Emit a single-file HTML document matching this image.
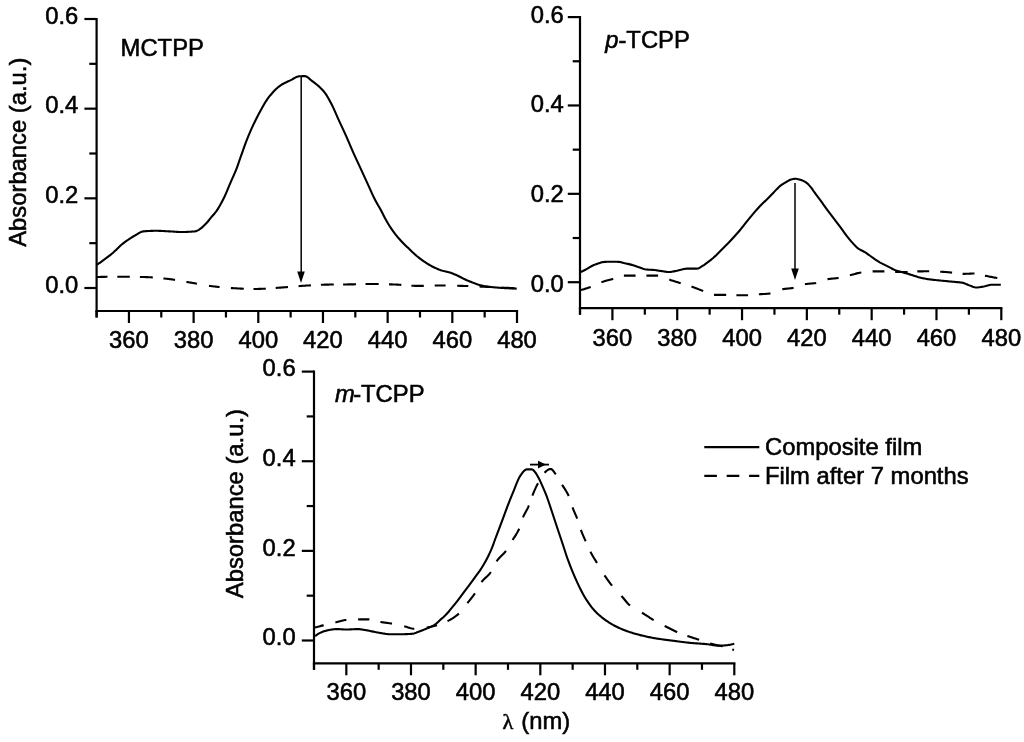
<!DOCTYPE html>
<html><head><meta charset="utf-8"><title>Absorbance spectra</title>
<style>html,body{margin:0;padding:0;background:#fff;width:1024px;height:742px;overflow:hidden}svg{display:block}</style>
</head><body>
<svg width="1024" height="742" viewBox="0 0 1024 742" font-family="Liberation Sans, Arial, sans-serif" fill="#000">
<rect width="1024" height="742" fill="#fff"/>
<style>text{stroke:#000;stroke-width:0.55px}</style>
<line x1="96.6" y1="17.9" x2="96.6" y2="317.5" stroke="#000" stroke-width="2.2"/>
<line x1="95.5" y1="311.0" x2="518.1" y2="311.0" stroke="#000" stroke-width="2.2"/>
<line x1="84.39999999999999" y1="288.00" x2="96.6" y2="288.00" stroke="#000" stroke-width="2.2"/>
<text transform="translate(78.30,292.80) scale(1.035,1)" text-anchor="end" font-size="23" >0.0</text>
<line x1="89.3" y1="243.17" x2="96.6" y2="243.17" stroke="#000" stroke-width="2.2"/>
<line x1="84.39999999999999" y1="198.33" x2="96.6" y2="198.33" stroke="#000" stroke-width="2.2"/>
<text transform="translate(78.30,203.10) scale(1.035,1)" text-anchor="end" font-size="23" >0.2</text>
<line x1="89.3" y1="153.50" x2="96.6" y2="153.50" stroke="#000" stroke-width="2.2"/>
<line x1="84.39999999999999" y1="108.67" x2="96.6" y2="108.67" stroke="#000" stroke-width="2.2"/>
<text transform="translate(78.30,112.80) scale(1.035,1)" text-anchor="end" font-size="23" >0.4</text>
<line x1="89.3" y1="63.83" x2="96.6" y2="63.83" stroke="#000" stroke-width="2.2"/>
<line x1="84.39999999999999" y1="19.00" x2="96.6" y2="19.00" stroke="#000" stroke-width="2.2"/>
<text transform="translate(78.30,23.90) scale(1.035,1)" text-anchor="end" font-size="23" >0.6</text>
<line x1="96.60" y1="311.0" x2="96.60" y2="317.5" stroke="#000" stroke-width="2.2"/>
<line x1="128.94" y1="311.0" x2="128.94" y2="323.0" stroke="#000" stroke-width="2.2"/>
<text transform="translate(128.94,347.70) scale(1.035,1)" text-anchor="middle" font-size="23" >360</text>
<line x1="161.28" y1="311.0" x2="161.28" y2="317.5" stroke="#000" stroke-width="2.2"/>
<line x1="193.62" y1="311.0" x2="193.62" y2="323.0" stroke="#000" stroke-width="2.2"/>
<text transform="translate(193.62,347.70) scale(1.035,1)" text-anchor="middle" font-size="23" >380</text>
<line x1="225.95" y1="311.0" x2="225.95" y2="317.5" stroke="#000" stroke-width="2.2"/>
<line x1="258.29" y1="311.0" x2="258.29" y2="323.0" stroke="#000" stroke-width="2.2"/>
<text transform="translate(258.29,347.70) scale(1.035,1)" text-anchor="middle" font-size="23" >400</text>
<line x1="290.63" y1="311.0" x2="290.63" y2="317.5" stroke="#000" stroke-width="2.2"/>
<line x1="322.97" y1="311.0" x2="322.97" y2="323.0" stroke="#000" stroke-width="2.2"/>
<text transform="translate(322.97,347.70) scale(1.035,1)" text-anchor="middle" font-size="23" >420</text>
<line x1="355.31" y1="311.0" x2="355.31" y2="317.5" stroke="#000" stroke-width="2.2"/>
<line x1="387.65" y1="311.0" x2="387.65" y2="323.0" stroke="#000" stroke-width="2.2"/>
<text transform="translate(387.65,347.70) scale(1.035,1)" text-anchor="middle" font-size="23" >440</text>
<line x1="419.98" y1="311.0" x2="419.98" y2="317.5" stroke="#000" stroke-width="2.2"/>
<line x1="452.32" y1="311.0" x2="452.32" y2="323.0" stroke="#000" stroke-width="2.2"/>
<text transform="translate(452.32,347.70) scale(1.035,1)" text-anchor="middle" font-size="23" >460</text>
<line x1="484.66" y1="311.0" x2="484.66" y2="317.5" stroke="#000" stroke-width="2.2"/>
<line x1="517.00" y1="311.0" x2="517.00" y2="323.0" stroke="#000" stroke-width="2.2"/>
<text transform="translate(517.00,347.70) scale(1.035,1)" text-anchor="middle" font-size="23" >480</text>
<text transform="translate(26.00,152.20) rotate(-90) scale(1.035,1)" text-anchor="middle" font-size="23" >Absorbance (a.u.)</text>
<text transform="translate(120.60,56.00) scale(1.035,1)" text-anchor="start" font-size="23" >MCTPP</text>
<path d="M96.80,264.80 L97.80,264.14 L98.80,263.46 L99.80,262.78 L100.80,262.09 L101.80,261.38 L102.80,260.67 L103.80,259.94 L104.80,259.21 L105.80,258.46 L106.80,257.71 L107.80,256.96 L108.80,256.18 L109.80,255.40 L110.80,254.59 L111.80,253.77 L112.80,252.93 L113.80,252.04 L114.80,251.10 L115.80,250.14 L116.80,249.15 L117.80,248.16 L118.80,247.18 L119.80,246.23 L120.80,245.32 L121.80,244.46 L122.80,243.66 L123.80,242.88 L124.80,242.13 L125.80,241.40 L126.80,240.69 L127.80,240.00 L128.80,239.33 L129.80,238.66 L130.80,238.01 L131.80,237.38 L132.80,236.76 L133.80,236.16 L134.80,235.57 L135.80,235.01 L136.80,234.44 L137.80,233.81 L138.80,233.18 L139.80,232.58 L140.80,232.06 L141.80,231.66 L142.80,231.42 L143.80,231.33 L144.80,231.24 L145.80,231.17 L146.80,231.10 L147.80,231.04 L148.80,230.98 L149.80,230.93 L150.80,230.89 L151.80,230.86 L152.80,230.83 L153.80,230.82 L154.80,230.80 L155.80,230.80 L156.80,230.80 L157.80,230.82 L158.80,230.84 L159.80,230.88 L160.80,230.92 L161.80,230.96 L162.80,231.01 L163.80,231.06 L164.80,231.12 L165.80,231.18 L166.80,231.23 L167.80,231.29 L168.80,231.34 L169.80,231.39 L170.80,231.44 L171.80,231.50 L172.80,231.56 L173.80,231.63 L174.80,231.70 L175.80,231.76 L176.80,231.83 L177.80,231.88 L178.80,231.93 L179.80,231.97 L180.80,231.99 L181.80,232.00 L182.80,232.00 L183.80,231.98 L184.80,231.97 L185.80,231.94 L186.80,231.91 L187.80,231.87 L188.80,231.82 L189.80,231.77 L190.80,231.71 L191.80,231.64 L192.80,231.56 L193.80,231.47 L194.80,231.38 L195.80,231.15 L196.80,230.78 L197.80,230.34 L198.80,229.84 L199.80,229.21 L200.80,228.46 L201.80,227.61 L202.80,226.70 L203.80,225.75 L204.80,224.79 L205.80,223.80 L206.77,222.76 L207.67,221.73 L208.52,220.71 L209.35,219.70 L210.16,218.70 L210.96,217.70 L211.77,216.71 L212.60,215.73 L213.47,214.74 L214.35,213.73 L215.21,212.70 L216.01,211.66 L216.75,210.62 L217.43,209.59 L218.08,208.57 L218.71,207.55 L219.31,206.54 L219.89,205.52 L220.46,204.51 L221.01,203.50 L221.55,202.49 L222.08,201.48 L222.60,200.47 L223.12,199.46 L223.62,198.46 L224.12,197.45 L224.62,196.43 L225.10,195.41 L225.55,194.40 L226.00,193.39 L226.43,192.38 L226.86,191.37 L227.28,190.36 L227.69,189.36 L228.11,188.36 L228.52,187.36 L228.93,186.36 L229.34,185.36 L229.76,184.37 L230.18,183.38 L230.61,182.38 L231.05,181.39 L231.49,180.40 L231.93,179.40 L232.38,178.40 L232.83,177.40 L233.28,176.40 L233.72,175.39 L234.16,174.39 L234.60,173.38 L235.03,172.37 L235.45,171.36 L235.86,170.35 L236.27,169.34 L236.66,168.32 L237.04,167.31 L237.41,166.29 L237.78,165.28 L238.13,164.28 L238.48,163.27 L238.83,162.27 L239.17,161.26 L239.51,160.26 L239.85,159.26 L240.19,158.26 L240.54,157.27 L240.88,156.27 L241.23,155.28 L241.58,154.29 L241.94,153.28 L242.29,152.28 L242.65,151.28 L243.00,150.28 L243.35,149.28 L243.70,148.28 L244.06,147.29 L244.41,146.29 L244.77,145.29 L245.14,144.30 L245.50,143.31 L245.88,142.32 L246.26,141.33 L246.64,140.34 L247.04,139.34 L247.44,138.35 L247.84,137.35 L248.25,136.36 L248.66,135.36 L249.07,134.37 L249.50,133.37 L249.92,132.38 L250.35,131.39 L250.79,130.39 L251.23,129.40 L251.68,128.40 L252.13,127.41 L252.59,126.42 L253.05,125.42 L253.51,124.43 L253.99,123.43 L254.46,122.44 L254.94,121.44 L255.43,120.45 L255.92,119.45 L256.42,118.46 L256.92,117.46 L257.43,116.47 L257.95,115.48 L258.47,114.48 L259.01,113.49 L259.55,112.50 L260.09,111.50 L260.64,110.50 L261.19,109.50 L261.74,108.50 L262.29,107.51 L262.84,106.51 L263.40,105.52 L263.97,104.53 L264.55,103.54 L265.14,102.55 L265.75,101.56 L266.37,100.58 L267.02,99.60 L267.70,98.63 L268.42,97.66 L269.19,96.69 L269.99,95.70 L270.81,94.71 L271.65,93.73 L272.51,92.74 L273.40,91.76 L274.33,90.78 L275.29,89.80 L276.29,88.84 L277.29,87.93 L278.29,87.07 L279.29,86.28 L280.29,85.55 L281.29,84.88 L282.29,84.27 L283.29,83.71 L284.29,83.18 L285.29,82.69 L286.29,82.22 L287.29,81.76 L288.29,81.31 L289.29,80.86 L290.29,80.39 L291.29,79.90 L292.29,79.35 L293.29,78.76 L294.29,78.15 L295.29,77.58 L296.29,77.07 L297.29,76.66 L298.29,76.39 L299.29,76.28 L300.29,76.23 L301.29,76.18 L302.29,76.14 L303.29,76.11 L304.29,76.10 L305.29,76.16 L306.29,76.48 L307.29,77.04 L308.29,77.77 L309.29,78.60 L310.29,79.48 L311.29,80.34 L312.29,81.12 L313.29,81.87 L314.29,82.63 L315.29,83.41 L316.29,84.21 L317.29,85.03 L318.29,85.88 L319.29,86.78 L320.29,87.72 L321.29,88.70 L322.28,89.73 L323.21,90.76 L324.09,91.79 L324.93,92.85 L325.67,93.89 L326.35,94.93 L327.00,95.95 L327.61,96.97 L328.20,97.99 L328.77,99.00 L329.32,100.01 L329.87,101.02 L330.41,102.03 L330.94,103.03 L331.47,104.03 L331.99,105.05 L332.50,106.07 L332.98,107.09 L333.46,108.10 L333.92,109.11 L334.37,110.12 L334.82,111.12 L335.26,112.13 L335.70,113.13 L336.13,114.13 L336.57,115.13 L337.00,116.13 L337.44,117.12 L337.88,118.12 L338.33,119.11 L338.78,120.10 L339.24,121.10 L339.71,122.10 L340.17,123.10 L340.64,124.09 L341.10,125.09 L341.57,126.09 L342.04,127.09 L342.51,128.09 L342.97,129.10 L343.44,130.10 L343.90,131.10 L344.36,132.10 L344.82,133.11 L345.27,134.11 L345.73,135.11 L346.18,136.12 L346.62,137.12 L347.06,138.13 L347.49,139.13 L347.92,140.14 L348.35,141.14 L348.78,142.14 L349.21,143.14 L349.63,144.14 L350.06,145.14 L350.48,146.14 L350.91,147.14 L351.34,148.14 L351.77,149.13 L352.20,150.13 L352.63,151.12 L353.07,152.12 L353.52,153.11 L353.97,154.11 L354.42,155.11 L354.88,156.10 L355.34,157.10 L355.80,158.10 L356.26,159.10 L356.73,160.10 L357.19,161.09 L357.66,162.09 L358.13,163.09 L358.59,164.09 L359.06,165.10 L359.53,166.10 L359.99,167.10 L360.45,168.10 L360.91,169.10 L361.37,170.10 L361.83,171.10 L362.29,172.10 L362.75,173.10 L363.21,174.10 L363.67,175.10 L364.12,176.10 L364.58,177.10 L365.04,178.10 L365.50,179.10 L365.96,180.10 L366.41,181.10 L366.87,182.10 L367.33,183.10 L367.79,184.10 L368.25,185.11 L368.71,186.11 L369.16,187.11 L369.61,188.12 L370.05,189.12 L370.50,190.12 L370.95,191.11 L371.40,192.11 L371.85,193.11 L372.30,194.10 L372.76,195.10 L373.23,196.09 L373.70,197.08 L374.18,198.07 L374.67,199.06 L375.18,200.04 L375.70,201.02 L376.24,202.01 L376.80,203.00 L377.37,203.99 L377.95,204.98 L378.53,205.98 L379.12,206.99 L379.70,207.99 L380.27,209.01 L380.82,210.02 L381.36,211.04 L381.87,212.05 L382.38,213.06 L382.88,214.06 L383.38,215.06 L383.88,216.05 L384.39,217.04 L384.91,218.03 L385.45,219.01 L386.01,220.00 L386.58,220.99 L387.15,221.99 L387.74,222.98 L388.33,223.97 L388.93,224.96 L389.55,225.95 L390.18,226.94 L390.82,227.93 L391.48,228.91 L392.16,229.90 L392.86,230.88 L393.58,231.87 L394.32,232.86 L395.08,233.84 L395.86,234.83 L396.65,235.82 L397.47,236.81 L398.30,237.80 L399.16,238.79 L400.03,239.78 L400.92,240.76 L401.84,241.75 L402.79,242.73 L403.76,243.72 L404.76,244.71 L405.76,245.68 L406.76,246.64 L407.76,247.60 L408.76,248.56 L409.76,249.52 L410.76,250.49 L411.76,251.45 L412.76,252.40 L413.76,253.34 L414.76,254.25 L415.76,255.14 L416.76,255.99 L417.76,256.80 L418.76,257.60 L419.76,258.39 L420.76,259.15 L421.76,259.89 L422.76,260.61 L423.76,261.30 L424.76,261.98 L425.76,262.63 L426.76,263.27 L427.76,263.90 L428.76,264.51 L429.76,265.10 L430.76,265.67 L431.76,266.22 L432.76,266.73 L433.76,267.22 L434.76,267.70 L435.76,268.16 L436.76,268.60 L437.76,269.02 L438.76,269.43 L439.76,269.81 L440.76,270.16 L441.76,270.48 L442.76,270.77 L443.76,271.03 L444.76,271.26 L445.76,271.49 L446.76,271.72 L447.76,271.96 L448.76,272.22 L449.76,272.52 L450.76,272.85 L451.76,273.21 L452.76,273.59 L453.76,273.99 L454.76,274.41 L455.76,274.83 L456.76,275.27 L457.76,275.73 L458.76,276.23 L459.76,276.74 L460.76,277.27 L461.76,277.79 L462.76,278.31 L463.76,278.81 L464.76,279.28 L465.76,279.73 L466.76,280.17 L467.76,280.60 L468.76,281.02 L469.76,281.43 L470.76,281.84 L471.76,282.23 L472.76,282.61 L473.76,282.99 L474.76,283.37 L475.76,283.76 L476.76,284.14 L477.76,284.50 L478.76,284.83 L479.76,285.14 L480.76,285.40 L481.76,285.62 L482.76,285.82 L483.76,286.00 L484.76,286.17 L485.76,286.32 L486.76,286.46 L487.76,286.60 L488.76,286.72 L489.76,286.84 L490.76,286.96 L491.76,287.06 L492.76,287.17 L493.76,287.27 L494.76,287.36 L495.76,287.45 L496.76,287.54 L497.76,287.62 L498.76,287.69 L499.76,287.76 L500.76,287.83 L501.76,287.89 L502.76,287.96 L503.76,288.02 L504.76,288.08 L505.76,288.14 L506.76,288.19 L507.76,288.25 L508.76,288.30 L509.76,288.35 L510.76,288.39 L511.76,288.44 L512.76,288.48 L513.76,288.51 L514.76,288.55 L515.76,288.58 L516.70,288.60" fill="none" stroke="#000" stroke-width="2.1" stroke-linejoin="round"/>
<path d="M96.80,277.00 L97.80,276.98 L98.80,276.95 L99.80,276.93 L100.80,276.90 L101.80,276.88 L102.80,276.86 L103.80,276.84 L104.80,276.83 L105.80,276.81 L106.80,276.80 L107.50,276.80 M117.30,276.72 L117.80,276.72 L118.80,276.71 L119.80,276.71 L120.80,276.70 L121.80,276.70 L122.80,276.70 L123.80,276.70 L124.80,276.70 L125.80,276.70 L126.80,276.71 L127.80,276.72 L128.80,276.72 L129.80,276.74 M139.90,276.93 L140.80,276.95 L141.80,276.98 L142.80,277.01 L143.80,277.04 L144.80,277.06 L145.80,277.09 L146.80,277.13 L147.80,277.17 L148.80,277.21 L149.80,277.26 L150.80,277.32 L151.80,277.38 L152.80,277.45 M163.40,278.43 L163.80,278.47 L164.80,278.58 L165.80,278.69 L166.80,278.80 L167.80,278.91 L168.80,279.02 L169.80,279.14 L170.80,279.27 L171.80,279.40 L172.80,279.54 L173.80,279.69 L174.80,279.84 L175.00,279.88 M186.40,281.88 L186.80,281.95 L187.80,282.13 L188.80,282.31 L189.80,282.48 L190.80,282.65 L191.80,282.82 L192.80,282.98 L193.80,283.15 L194.80,283.33 L195.80,283.51 L196.80,283.68 L197.00,283.72 M209.00,285.80 L209.80,285.92 L210.80,286.06 L211.80,286.20 L212.80,286.32 L213.80,286.44 L214.80,286.55 L215.80,286.66 L216.80,286.77 L217.80,286.87 L218.80,286.97 L219.60,287.05 M230.90,288.01 L231.80,288.08 L232.80,288.14 L233.80,288.21 L234.80,288.26 L235.80,288.32 L236.80,288.37 L237.80,288.43 L238.80,288.48 L239.80,288.53 L240.80,288.58 L241.80,288.63 L242.80,288.68 L243.80,288.73 M253.50,289.00 L253.80,289.00 L254.80,288.99 L255.80,288.98 L256.80,288.97 L257.80,288.94 L258.80,288.92 L259.80,288.89 L260.80,288.85 L261.80,288.82 L262.80,288.78 L263.80,288.74 L264.80,288.71 L265.80,288.67 M275.70,287.99 L275.80,287.98 L276.80,287.90 L277.80,287.82 L278.80,287.74 L279.80,287.66 L280.80,287.58 L281.80,287.50 L282.80,287.42 L283.80,287.35 L284.80,287.27 L285.80,287.19 L286.80,287.10 L287.80,287.02 L288.00,287.00 M298.60,286.12 L298.80,286.11 L299.80,286.03 L300.80,285.96 L301.80,285.89 L302.80,285.82 L303.80,285.76 L304.80,285.69 L305.80,285.63 L306.80,285.57 L307.80,285.51 L308.80,285.45 L309.80,285.39 L310.80,285.33 L310.90,285.32 M320.90,284.79 L321.80,284.75 L322.80,284.71 L323.80,284.68 L324.80,284.65 L325.80,284.63 L326.80,284.61 L327.80,284.59 L328.80,284.58 L329.80,284.57 L330.80,284.55 L331.80,284.54 L332.80,284.53 L333.80,284.53 M343.10,284.46 L343.80,284.45 L344.80,284.45 L345.80,284.44 L346.80,284.43 L347.80,284.42 L348.80,284.41 L349.80,284.40 L350.80,284.38 L351.80,284.37 L352.80,284.35 L353.80,284.33 L354.80,284.31 L355.80,284.28 L356.00,284.28 M365.50,284.07 L365.80,284.06 L366.80,284.04 L367.80,284.03 L368.80,284.02 L369.80,284.01 L370.80,284.00 L371.80,284.00 L372.80,284.00 L373.80,284.00 L374.80,284.01 L375.80,284.02 L376.80,284.03 L377.80,284.05 L378.70,284.06 M389.00,284.32 L389.80,284.34 L390.80,284.37 L391.80,284.41 L392.80,284.44 L393.80,284.47 L394.80,284.50 L395.80,284.54 L396.80,284.59 L397.80,284.65 L398.80,284.71 L399.80,284.78 L400.80,284.85 L401.30,284.89 M411.40,285.69 L411.80,285.71 L412.80,285.77 L413.80,285.81 L414.80,285.85 L415.80,285.88 L416.80,285.90 L417.80,285.90 L418.80,285.90 L419.80,285.89 L420.80,285.88 L421.80,285.86 L422.80,285.85 L423.80,285.83 M434.70,285.56 L434.80,285.56 L435.80,285.54 L436.80,285.52 L437.80,285.51 L438.80,285.50 L439.80,285.50 L440.80,285.50 L441.80,285.50 L442.80,285.51 L443.80,285.52 L444.80,285.52 L445.60,285.53 M457.20,285.76 L457.80,285.78 L458.80,285.80 L459.80,285.83 L460.80,285.85 L461.80,285.88 L462.80,285.90 L463.80,285.93 L464.80,285.96 L465.80,285.99 L466.80,286.02 L467.80,286.05 L468.30,286.07 M479.60,286.55 L479.80,286.56 L480.80,286.60 L481.80,286.65 L482.80,286.69 L483.80,286.74 L484.80,286.78 L485.80,286.83 L486.80,286.87 L487.80,286.92 L488.80,286.96 L489.80,287.01 L490.80,287.06 L491.60,287.10 M502.20,287.60 L502.80,287.63 L503.80,287.68 L504.80,287.73 L505.80,287.77 L506.80,287.82 L507.80,287.87 L508.80,287.91 L509.80,287.96 L510.80,288.01 L511.80,288.06 L512.80,288.10 L513.80,288.15 L514.50,288.18" fill="none" stroke="#000" stroke-width="2.1" stroke-linejoin="round"/>
<line x1="301.2" y1="76" x2="301.2" y2="274" stroke="#000" stroke-width="1.5"/>
<path d="M297.2,271.5 L304.8,271.5 L301,283 Z" fill="#000"/>
<line x1="580.0" y1="16.0" x2="580.0" y2="314.7" stroke="#000" stroke-width="2.2"/>
<line x1="578.9" y1="308.2" x2="1002.4" y2="308.2" stroke="#000" stroke-width="2.2"/>
<line x1="567.8" y1="282.20" x2="580.0" y2="282.20" stroke="#000" stroke-width="2.2"/>
<text transform="translate(563.80,291.60) scale(1.035,1)" text-anchor="end" font-size="23" >0.0</text>
<line x1="572.7" y1="238.02" x2="580.0" y2="238.02" stroke="#000" stroke-width="2.2"/>
<line x1="567.8" y1="193.83" x2="580.0" y2="193.83" stroke="#000" stroke-width="2.2"/>
<text transform="translate(563.80,202.20) scale(1.035,1)" text-anchor="end" font-size="23" >0.2</text>
<line x1="572.7" y1="149.65" x2="580.0" y2="149.65" stroke="#000" stroke-width="2.2"/>
<line x1="567.8" y1="105.47" x2="580.0" y2="105.47" stroke="#000" stroke-width="2.2"/>
<text transform="translate(563.80,112.40) scale(1.035,1)" text-anchor="end" font-size="23" >0.4</text>
<line x1="572.7" y1="61.28" x2="580.0" y2="61.28" stroke="#000" stroke-width="2.2"/>
<line x1="567.8" y1="17.10" x2="580.0" y2="17.10" stroke="#000" stroke-width="2.2"/>
<text transform="translate(563.80,22.70) scale(1.035,1)" text-anchor="end" font-size="23" >0.6</text>
<line x1="580.00" y1="308.2" x2="580.00" y2="314.7" stroke="#000" stroke-width="2.2"/>
<line x1="612.41" y1="308.2" x2="612.41" y2="320.2" stroke="#000" stroke-width="2.2"/>
<text transform="translate(612.41,345.50) scale(1.035,1)" text-anchor="middle" font-size="23" >360</text>
<line x1="644.82" y1="308.2" x2="644.82" y2="314.7" stroke="#000" stroke-width="2.2"/>
<line x1="677.22" y1="308.2" x2="677.22" y2="320.2" stroke="#000" stroke-width="2.2"/>
<text transform="translate(677.22,345.50) scale(1.035,1)" text-anchor="middle" font-size="23" >380</text>
<line x1="709.63" y1="308.2" x2="709.63" y2="314.7" stroke="#000" stroke-width="2.2"/>
<line x1="742.04" y1="308.2" x2="742.04" y2="320.2" stroke="#000" stroke-width="2.2"/>
<text transform="translate(742.04,345.50) scale(1.035,1)" text-anchor="middle" font-size="23" >400</text>
<line x1="774.45" y1="308.2" x2="774.45" y2="314.7" stroke="#000" stroke-width="2.2"/>
<line x1="806.85" y1="308.2" x2="806.85" y2="320.2" stroke="#000" stroke-width="2.2"/>
<text transform="translate(806.85,345.50) scale(1.035,1)" text-anchor="middle" font-size="23" >420</text>
<line x1="839.26" y1="308.2" x2="839.26" y2="314.7" stroke="#000" stroke-width="2.2"/>
<line x1="871.67" y1="308.2" x2="871.67" y2="320.2" stroke="#000" stroke-width="2.2"/>
<text transform="translate(871.67,345.50) scale(1.035,1)" text-anchor="middle" font-size="23" >440</text>
<line x1="904.08" y1="308.2" x2="904.08" y2="314.7" stroke="#000" stroke-width="2.2"/>
<line x1="936.48" y1="308.2" x2="936.48" y2="320.2" stroke="#000" stroke-width="2.2"/>
<text transform="translate(936.48,345.50) scale(1.035,1)" text-anchor="middle" font-size="23" >460</text>
<line x1="968.89" y1="308.2" x2="968.89" y2="314.7" stroke="#000" stroke-width="2.2"/>
<line x1="1001.30" y1="308.2" x2="1001.30" y2="320.2" stroke="#000" stroke-width="2.2"/>
<text transform="translate(1001.30,345.50) scale(1.035,1)" text-anchor="middle" font-size="23" >480</text>
<text transform="translate(605.2,48.2) scale(1.035,1)" font-size="23"><tspan font-style="italic">p</tspan>-TCPP</text>
<path d="M580.90,272.00 L581.90,271.51 L582.90,271.01 L583.90,270.50 L584.90,269.98 L585.90,269.45 L586.90,268.88 L587.90,268.28 L588.90,267.67 L589.90,267.06 L590.90,266.48 L591.90,265.94 L592.90,265.46 L593.90,265.03 L594.90,264.62 L595.90,264.24 L596.90,263.89 L597.90,263.57 L598.90,263.24 L599.90,262.90 L600.90,262.59 L601.90,262.31 L602.90,262.09 L603.90,261.94 L604.90,261.87 L605.90,261.83 L606.90,261.79 L607.90,261.75 L608.90,261.73 L609.90,261.71 L610.90,261.70 L611.90,261.70 L612.90,261.71 L613.90,261.73 L614.90,261.75 L615.90,261.78 L616.90,261.81 L617.90,261.85 L618.90,261.90 L619.90,261.99 L620.90,262.16 L621.90,262.40 L622.90,262.67 L623.90,262.95 L624.90,263.20 L625.90,263.43 L626.90,263.66 L627.90,263.88 L628.90,264.12 L629.90,264.36 L630.90,264.61 L631.90,264.88 L632.90,265.16 L633.90,265.47 L634.90,265.82 L635.90,266.18 L636.90,266.55 L637.90,266.90 L638.90,267.23 L639.90,267.58 L640.90,267.95 L641.90,268.32 L642.90,268.67 L643.90,268.98 L644.90,269.24 L645.90,269.44 L646.90,269.55 L647.90,269.63 L648.90,269.69 L649.90,269.75 L650.90,269.79 L651.90,269.84 L652.90,269.90 L653.90,269.97 L654.90,270.07 L655.90,270.20 L656.90,270.35 L657.90,270.51 L658.90,270.68 L659.90,270.84 L660.90,270.99 L661.90,271.13 L662.90,271.30 L663.90,271.47 L664.90,271.63 L665.90,271.78 L666.90,271.90 L667.90,271.98 L668.90,272.00 L669.90,271.96 L670.90,271.86 L671.90,271.72 L672.90,271.54 L673.90,271.35 L674.90,271.15 L675.90,270.96 L676.90,270.73 L677.90,270.47 L678.90,270.21 L679.90,269.98 L680.90,269.75 L681.90,269.51 L682.90,269.28 L683.90,269.05 L684.90,268.86 L685.90,268.71 L686.90,268.62 L687.90,268.60 L688.90,268.60 L689.90,268.60 L690.90,268.60 L691.90,268.60 L692.90,268.60 L693.90,268.60 L694.90,268.60 L695.90,268.60 L696.90,268.60 L697.90,268.53 L698.90,268.18 L699.90,267.61 L700.90,266.94 L701.90,266.28 L702.90,265.68 L703.90,265.05 L704.90,264.38 L705.90,263.68 L706.90,262.95 L707.90,262.21 L708.90,261.45 L709.90,260.68 L710.90,259.87 L711.90,259.04 L712.90,258.19 L713.90,257.30 L714.90,256.40 L715.90,255.46 L716.90,254.47 L717.90,253.46 L718.88,252.46 L719.85,251.46 L720.83,250.47 L721.83,249.47 L722.83,248.49 L723.83,247.50 L724.83,246.51 L725.83,245.52 L726.83,244.51 L727.82,243.51 L728.79,242.50 L729.75,241.49 L730.69,240.48 L731.61,239.48 L732.53,238.47 L733.44,237.47 L734.35,236.47 L735.25,235.47 L736.16,234.47 L737.06,233.47 L737.96,232.46 L738.84,231.45 L739.71,230.44 L740.56,229.42 L741.39,228.41 L742.19,227.40 L742.98,226.40 L743.77,225.40 L744.55,224.40 L745.34,223.40 L746.13,222.41 L746.94,221.41 L747.75,220.41 L748.56,219.42 L749.37,218.42 L750.19,217.42 L751.01,216.42 L751.84,215.43 L752.67,214.43 L753.52,213.43 L754.36,212.43 L755.21,211.44 L756.06,210.44 L756.92,209.45 L757.80,208.46 L758.69,207.47 L759.61,206.49 L760.55,205.51 L761.54,204.52 L762.54,203.55 L763.54,202.58 L764.54,201.62 L765.54,200.65 L766.54,199.66 L767.54,198.66 L768.53,197.65 L769.51,196.65 L770.49,195.65 L771.47,194.65 L772.45,193.66 L773.44,192.66 L774.42,191.64 L775.37,190.63 L776.30,189.63 L777.25,188.65 L778.22,187.67 L779.22,186.75 L780.22,185.93 L781.22,185.17 L782.22,184.47 L783.22,183.81 L784.22,183.18 L785.22,182.59 L786.22,182.02 L787.22,181.42 L788.22,180.83 L789.22,180.28 L790.22,179.80 L791.22,179.44 L792.22,179.22 L793.22,179.04 L794.22,178.89 L795.22,178.81 L796.22,178.82 L797.22,178.94 L798.22,179.16 L799.22,179.43 L800.22,179.72 L801.22,180.03 L802.22,180.41 L803.22,180.85 L804.22,181.37 L805.22,181.94 L806.22,182.58 L807.22,183.33 L808.22,184.28 L809.20,185.34 L810.09,186.35 L810.95,187.39 L811.74,188.44 L812.47,189.46 L813.16,190.47 L813.84,191.47 L814.53,192.46 L815.23,193.44 L815.96,194.43 L816.71,195.43 L817.46,196.43 L818.21,197.43 L818.97,198.43 L819.72,199.43 L820.47,200.44 L821.21,201.45 L821.93,202.46 L822.64,203.46 L823.33,204.47 L824.03,205.47 L824.73,206.46 L825.43,207.45 L826.15,208.44 L826.88,209.43 L827.63,210.43 L828.38,211.42 L829.14,212.42 L829.91,213.42 L830.67,214.42 L831.42,215.42 L832.18,216.42 L832.94,217.42 L833.70,218.42 L834.46,219.42 L835.21,220.42 L835.97,221.42 L836.73,222.42 L837.50,223.42 L838.26,224.42 L839.02,225.42 L839.78,226.43 L840.53,227.43 L841.27,228.44 L842.00,229.46 L842.71,230.46 L843.41,231.46 L844.11,232.46 L844.82,233.45 L845.54,234.43 L846.29,235.41 L847.07,236.41 L847.86,237.40 L848.66,238.39 L849.48,239.37 L850.33,240.36 L851.19,241.35 L852.08,242.34 L852.98,243.34 L853.87,244.34 L854.77,245.32 L855.71,246.29 L856.71,247.24 L857.71,248.08 L858.71,248.80 L859.71,249.42 L860.71,249.98 L861.71,250.50 L862.71,251.00 L863.71,251.52 L864.71,252.07 L865.71,252.67 L866.71,253.34 L867.71,254.05 L868.71,254.78 L869.71,255.53 L870.71,256.28 L871.71,257.02 L872.71,257.73 L873.71,258.42 L874.71,259.09 L875.71,259.76 L876.71,260.42 L877.71,261.06 L878.71,261.69 L879.71,262.29 L880.71,262.86 L881.71,263.41 L882.71,263.93 L883.71,264.43 L884.71,264.91 L885.71,265.39 L886.71,265.87 L887.71,266.36 L888.71,266.86 L889.71,267.38 L890.71,267.92 L891.71,268.45 L892.71,268.97 L893.71,269.46 L894.71,269.91 L895.71,270.30 L896.71,270.65 L897.71,270.96 L898.71,271.25 L899.71,271.53 L900.71,271.79 L901.71,272.06 L902.71,272.33 L903.71,272.62 L904.71,272.91 L905.71,273.20 L906.71,273.49 L907.71,273.78 L908.71,274.08 L909.71,274.37 L910.71,274.67 L911.71,274.98 L912.71,275.31 L913.71,275.64 L914.71,275.97 L915.71,276.30 L916.71,276.61 L917.71,276.91 L918.71,277.18 L919.71,277.45 L920.71,277.70 L921.71,277.95 L922.71,278.18 L923.71,278.40 L924.71,278.59 L925.71,278.77 L926.71,278.94 L927.71,279.09 L928.71,279.23 L929.71,279.37 L930.71,279.50 L931.71,279.62 L932.71,279.74 L933.71,279.86 L934.71,279.97 L935.71,280.08 L936.71,280.18 L937.71,280.28 L938.71,280.38 L939.71,280.48 L940.71,280.57 L941.71,280.67 L942.71,280.77 L943.71,280.87 L944.71,280.96 L945.71,281.06 L946.71,281.16 L947.71,281.25 L948.71,281.35 L949.71,281.44 L950.71,281.54 L951.71,281.63 L952.71,281.73 L953.71,281.83 L954.71,281.92 L955.71,282.01 L956.71,282.09 L957.71,282.17 L958.71,282.26 L959.71,282.37 L960.71,282.48 L961.71,282.62 L962.71,282.80 L963.71,283.08 L964.71,283.44 L965.71,283.85 L966.71,284.29 L967.71,284.72 L968.71,285.13 L969.71,285.48 L970.71,285.88 L971.71,286.30 L972.71,286.70 L973.71,287.06 L974.71,287.33 L975.71,287.48 L976.71,287.49 L977.71,287.43 L978.71,287.33 L979.71,287.20 L980.71,287.04 L981.71,286.87 L982.71,286.70 L983.71,286.53 L984.71,286.31 L985.71,286.05 L986.71,285.76 L987.71,285.47 L988.71,285.20 L989.71,284.97 L990.71,284.80 L991.71,284.71 L992.71,284.70 L993.71,284.70 L994.71,284.70 L995.71,284.70 L996.71,284.70 L997.71,284.70 L998.71,284.70 L999.71,284.70 L1000.71,284.70 L1000.80,284.70" fill="none" stroke="#000" stroke-width="2.1" stroke-linejoin="round"/>
<path d="M580.90,290.00 L581.90,289.74 L582.90,289.46 L583.90,289.17 L584.90,288.87 L585.90,288.55 L586.90,288.23 L587.90,287.89 L588.90,287.55 L589.90,287.19 L590.70,286.90 M601.40,282.20 L601.90,282.03 L602.90,281.70 L603.90,281.39 L604.90,281.09 L605.90,280.80 L606.90,280.53 L607.90,280.26 L608.90,279.99 L609.90,279.72 L610.90,279.45 L611.90,279.17 L612.90,278.89 L613.20,278.80 M623.90,275.60 L624.90,275.60 L625.90,275.60 L626.90,275.60 L627.90,275.60 L628.90,275.60 L629.90,275.60 L630.90,275.60 L631.90,275.60 L632.90,275.60 L633.90,275.60 L634.90,275.60 L635.60,275.60 M646.40,275.60 L646.90,275.60 L647.90,275.60 L648.90,275.60 L649.90,275.60 L650.90,275.60 L651.90,275.60 L652.90,275.60 L653.90,275.60 L654.90,275.60 L655.90,275.60 L656.90,275.60 L657.90,275.60 L658.10,275.61 M669.30,279.60 L669.90,279.80 L670.90,280.13 L671.90,280.45 L672.90,280.77 L673.90,281.09 L674.90,281.40 L675.90,281.71 L676.90,282.02 L677.90,282.33 L678.90,282.64 L679.90,282.95 L680.70,283.20 M691.50,286.60 L691.90,286.74 L692.90,287.09 L693.90,287.45 L694.90,287.83 L695.90,288.20 L696.90,288.59 L697.90,288.97 L698.90,289.36 L699.90,289.75 L700.90,290.13 L701.90,290.51 L702.90,290.89 L703.20,291.00 M714.00,294.90 L714.90,294.90 L715.90,294.90 L716.90,294.90 L717.90,294.90 L718.90,294.90 L719.90,294.90 L720.90,294.90 L721.90,294.90 L722.90,294.90 L723.90,294.90 L724.90,294.90 L725.90,294.90 L726.20,294.90 M736.40,295.20 L736.90,295.20 L737.90,295.20 L738.90,295.20 L739.90,295.20 L740.90,295.20 L741.90,295.20 L742.90,295.20 L743.90,295.20 L744.90,295.20 L745.90,295.20 L746.90,295.20 L747.90,295.20 L748.10,295.20 M758.90,294.30 L759.90,294.23 L760.90,294.17 L761.90,294.11 L762.90,294.06 L763.90,294.00 L764.90,293.95 L765.90,293.89 L766.90,293.82 L767.90,293.75 L768.90,293.66 L769.90,293.57 L770.50,293.49 M782.30,289.21 L782.90,289.10 L783.90,288.96 L784.90,288.84 L785.90,288.73 L786.90,288.64 L787.90,288.55 L788.90,288.46 L789.90,288.37 L790.90,288.27 L791.90,288.15 L792.90,288.01 L793.60,287.90 M804.90,284.20 L805.90,284.05 L806.90,283.93 L807.90,283.83 L808.90,283.74 L809.90,283.65 L810.90,283.57 L811.90,283.49 L812.90,283.40 L813.90,283.30 L814.90,283.19 L815.90,283.05 L816.20,282.99 M827.50,279.21 L827.90,279.13 L828.90,278.98 L829.90,278.85 L830.90,278.74 L831.90,278.64 L832.90,278.54 L833.90,278.45 L834.90,278.35 L835.90,278.25 L836.90,278.14 L837.90,278.00 L838.60,277.90 M849.90,275.20 L850.90,274.95 L851.90,274.70 L852.90,274.43 L853.90,274.16 L854.90,273.89 L855.90,273.63 L856.90,273.38 L857.90,273.14 L858.90,272.92 L859.90,272.72 L860.90,272.56 L861.30,272.50 M872.60,271.40 L872.90,271.40 L873.90,271.40 L874.90,271.40 L875.90,271.40 L876.90,271.40 L877.90,271.40 L878.90,271.40 L879.90,271.40 L880.90,271.40 L881.90,271.40 L882.90,271.40 L883.90,271.40 L884.40,271.40 M895.20,272.00 L895.90,272.00 L896.90,272.00 L897.90,272.00 L898.90,272.00 L899.90,272.00 L900.90,272.00 L901.90,272.00 L902.90,272.00 L903.90,272.00 L904.90,272.00 L905.90,272.00 L906.90,272.00 L907.60,272.00 M917.30,271.40 L917.90,271.39 L918.90,271.38 L919.90,271.36 L920.90,271.35 L921.90,271.34 L922.90,271.33 L923.90,271.32 L924.90,271.31 L925.90,271.31 L926.90,271.30 L927.90,271.30 L928.90,271.30 L929.20,271.30 M940.20,271.70 L940.90,271.74 L941.90,271.79 L942.90,271.85 L943.90,271.92 L944.90,271.99 L945.90,272.06 L946.90,272.14 L947.90,272.22 L948.90,272.31 L949.90,272.40 L950.90,272.49 L951.90,272.58 L952.10,272.60 M962.60,273.90 L962.90,273.90 L963.90,273.89 L964.90,273.86 L965.90,273.82 L966.90,273.78 L967.90,273.73 L968.90,273.68 L969.90,273.63 L970.90,273.59 L971.90,273.55 L972.90,273.52 L973.90,273.50 L974.50,273.51 M985.00,275.70 L985.90,275.88 L986.90,276.08 L987.90,276.28 L988.90,276.48 L989.90,276.68 L990.90,276.87 L991.90,277.06 L992.90,277.25 L993.90,277.43 L994.90,277.61 L995.90,277.78 L996.90,277.94 L997.30,278.00" fill="none" stroke="#000" stroke-width="2.1" stroke-linejoin="round"/>
<line x1="795" y1="183" x2="795" y2="270" stroke="#000" stroke-width="1.5"/>
<path d="M791.2,268.5 L798.8,268.5 L795,280 Z" fill="#000"/>
<line x1="314.0" y1="370.5" x2="314.0" y2="669.8" stroke="#000" stroke-width="2.2"/>
<line x1="312.9" y1="663.3" x2="735.4" y2="663.3" stroke="#000" stroke-width="2.2"/>
<line x1="301.8" y1="640.50" x2="314.0" y2="640.50" stroke="#000" stroke-width="2.2"/>
<text transform="translate(295.70,645.10) scale(1.035,1)" text-anchor="end" font-size="23" >0.0</text>
<line x1="306.7" y1="595.68" x2="314.0" y2="595.68" stroke="#000" stroke-width="2.2"/>
<line x1="301.8" y1="550.87" x2="314.0" y2="550.87" stroke="#000" stroke-width="2.2"/>
<text transform="translate(295.70,555.50) scale(1.035,1)" text-anchor="end" font-size="23" >0.2</text>
<line x1="306.7" y1="506.05" x2="314.0" y2="506.05" stroke="#000" stroke-width="2.2"/>
<line x1="301.8" y1="461.23" x2="314.0" y2="461.23" stroke="#000" stroke-width="2.2"/>
<text transform="translate(295.70,465.90) scale(1.035,1)" text-anchor="end" font-size="23" >0.4</text>
<line x1="306.7" y1="416.42" x2="314.0" y2="416.42" stroke="#000" stroke-width="2.2"/>
<line x1="301.8" y1="371.60" x2="314.0" y2="371.60" stroke="#000" stroke-width="2.2"/>
<text transform="translate(295.70,376.30) scale(1.035,1)" text-anchor="end" font-size="23" >0.6</text>
<line x1="314.00" y1="663.3" x2="314.00" y2="669.8" stroke="#000" stroke-width="2.2"/>
<line x1="346.33" y1="663.3" x2="346.33" y2="675.3" stroke="#000" stroke-width="2.2"/>
<text transform="translate(346.33,700.10) scale(1.035,1)" text-anchor="middle" font-size="23" >360</text>
<line x1="378.66" y1="663.3" x2="378.66" y2="669.8" stroke="#000" stroke-width="2.2"/>
<line x1="410.99" y1="663.3" x2="410.99" y2="675.3" stroke="#000" stroke-width="2.2"/>
<text transform="translate(410.99,700.10) scale(1.035,1)" text-anchor="middle" font-size="23" >380</text>
<line x1="443.32" y1="663.3" x2="443.32" y2="669.8" stroke="#000" stroke-width="2.2"/>
<line x1="475.65" y1="663.3" x2="475.65" y2="675.3" stroke="#000" stroke-width="2.2"/>
<text transform="translate(475.65,700.10) scale(1.035,1)" text-anchor="middle" font-size="23" >400</text>
<line x1="507.98" y1="663.3" x2="507.98" y2="669.8" stroke="#000" stroke-width="2.2"/>
<line x1="540.32" y1="663.3" x2="540.32" y2="675.3" stroke="#000" stroke-width="2.2"/>
<text transform="translate(540.32,700.10) scale(1.035,1)" text-anchor="middle" font-size="23" >420</text>
<line x1="572.65" y1="663.3" x2="572.65" y2="669.8" stroke="#000" stroke-width="2.2"/>
<line x1="604.98" y1="663.3" x2="604.98" y2="675.3" stroke="#000" stroke-width="2.2"/>
<text transform="translate(604.98,700.10) scale(1.035,1)" text-anchor="middle" font-size="23" >440</text>
<line x1="637.31" y1="663.3" x2="637.31" y2="669.8" stroke="#000" stroke-width="2.2"/>
<line x1="669.64" y1="663.3" x2="669.64" y2="675.3" stroke="#000" stroke-width="2.2"/>
<text transform="translate(669.64,700.10) scale(1.035,1)" text-anchor="middle" font-size="23" >460</text>
<line x1="701.97" y1="663.3" x2="701.97" y2="669.8" stroke="#000" stroke-width="2.2"/>
<line x1="734.30" y1="663.3" x2="734.30" y2="675.3" stroke="#000" stroke-width="2.2"/>
<text transform="translate(734.30,700.10) scale(1.035,1)" text-anchor="middle" font-size="23" >480</text>
<text transform="translate(242.60,503.60) rotate(-90) scale(1.035,1)" text-anchor="middle" font-size="23" >Absorbance (a.u.)</text>
<text transform="translate(335.0,401.6) scale(1.035,1)" font-size="23"><tspan font-style="italic">m</tspan><tspan dx="-1.6">-TCPP</tspan></text>
<path d="M315.10,636.10 L316.10,635.33 L317.10,634.61 L318.10,633.94 L319.10,633.35 L320.10,632.86 L321.10,632.41 L322.10,631.99 L323.10,631.60 L324.10,631.24 L325.10,630.92 L326.10,630.64 L327.10,630.40 L328.10,630.21 L329.10,630.02 L330.10,629.84 L331.10,629.66 L332.10,629.51 L333.10,629.37 L334.10,629.26 L335.10,629.17 L336.10,629.12 L337.10,629.10 L338.10,629.12 L339.10,629.15 L340.10,629.20 L341.10,629.26 L342.10,629.33 L343.10,629.39 L344.10,629.44 L345.10,629.48 L346.10,629.50 L347.10,629.50 L348.10,629.47 L349.10,629.44 L350.10,629.39 L351.10,629.34 L352.10,629.29 L353.10,629.23 L354.10,629.18 L355.10,629.14 L356.10,629.11 L357.10,629.10 L358.10,629.11 L359.10,629.17 L360.10,629.26 L361.10,629.39 L362.10,629.53 L363.10,629.69 L364.10,629.86 L365.10,630.04 L366.10,630.20 L367.10,630.36 L368.10,630.54 L369.10,630.73 L370.10,630.94 L371.10,631.16 L372.10,631.38 L373.10,631.60 L374.10,631.82 L375.10,632.03 L376.10,632.23 L377.10,632.42 L378.10,632.58 L379.10,632.76 L380.10,632.94 L381.10,633.12 L382.10,633.30 L383.10,633.48 L384.10,633.65 L385.10,633.80 L386.10,633.93 L387.10,634.04 L388.10,634.13 L389.10,634.18 L390.10,634.20 L391.10,634.20 L392.10,634.20 L393.10,634.20 L394.10,634.20 L395.10,634.20 L396.10,634.20 L397.10,634.20 L398.10,634.20 L399.10,634.20 L400.10,634.20 L401.10,634.20 L402.10,634.20 L403.10,634.20 L404.10,634.19 L405.10,634.17 L406.10,634.14 L407.10,634.10 L408.10,634.05 L409.10,634.00 L410.10,633.94 L411.10,633.87 L412.10,633.79 L413.10,633.65 L414.10,633.41 L415.10,633.09 L416.10,632.73 L417.10,632.33 L418.10,631.93 L419.10,631.55 L420.10,631.19 L421.10,630.82 L422.10,630.44 L423.10,630.05 L424.10,629.65 L425.10,629.24 L426.10,628.82 L427.10,628.39 L428.10,627.95 L429.10,627.52 L430.10,627.08 L431.10,626.63 L432.10,626.15 L433.10,625.64 L434.10,625.08 L435.10,624.46 L436.10,623.74 L437.10,622.86 L438.10,621.91 L439.10,620.93 L440.10,620.01 L441.10,619.15 L442.10,618.30 L443.10,617.43 L444.10,616.50 L445.10,615.52 L446.09,614.50 L447.03,613.48 L447.95,612.47 L448.85,611.44 L449.70,610.43 L450.53,609.42 L451.35,608.42 L452.16,607.42 L452.99,606.43 L453.82,605.43 L454.65,604.42 L455.47,603.41 L456.28,602.40 L457.06,601.39 L457.83,600.38 L458.58,599.37 L459.33,598.37 L460.07,597.37 L460.82,596.37 L461.56,595.37 L462.30,594.36 L463.04,593.37 L463.77,592.37 L464.52,591.38 L465.27,590.38 L466.03,589.38 L466.80,588.38 L467.56,587.38 L468.32,586.37 L469.07,585.37 L469.82,584.37 L470.56,583.37 L471.30,582.37 L472.04,581.36 L472.77,580.36 L473.49,579.35 L474.21,578.35 L474.92,577.35 L475.63,576.35 L476.36,575.36 L477.09,574.38 L477.85,573.39 L478.61,572.38 L479.36,571.35 L480.06,570.32 L480.73,569.31 L481.39,568.30 L482.02,567.28 L482.65,566.27 L483.26,565.26 L483.85,564.25 L484.43,563.24 L485.01,562.23 L485.57,561.22 L486.11,560.21 L486.65,559.20 L487.18,558.19 L487.70,557.18 L488.21,556.17 L488.71,555.16 L489.19,554.15 L489.67,553.14 L490.13,552.12 L490.59,551.11 L491.03,550.10 L491.46,549.08 L491.87,548.06 L492.27,547.05 L492.66,546.04 L493.04,545.03 L493.42,544.02 L493.78,543.01 L494.15,542.01 L494.51,541.01 L494.87,540.01 L495.23,539.01 L495.60,538.01 L495.96,537.02 L496.33,536.02 L496.70,535.03 L497.08,534.03 L497.46,533.03 L497.84,532.03 L498.21,531.03 L498.59,530.03 L498.97,529.03 L499.35,528.03 L499.73,527.03 L500.11,526.03 L500.48,525.03 L500.86,524.03 L501.24,523.03 L501.61,522.03 L501.99,521.03 L502.37,520.03 L502.74,519.02 L503.11,518.02 L503.48,517.02 L503.85,516.02 L504.22,515.02 L504.58,514.02 L504.95,513.02 L505.32,512.02 L505.68,511.02 L506.05,510.02 L506.42,509.02 L506.79,508.03 L507.17,507.03 L507.54,506.03 L507.92,505.04 L508.31,504.04 L508.70,503.05 L509.09,502.05 L509.48,501.05 L509.88,500.06 L510.27,499.06 L510.68,498.06 L511.08,497.07 L511.49,496.08 L511.91,495.08 L512.32,494.08 L512.74,493.08 L513.16,492.07 L513.57,491.07 L513.98,490.06 L514.37,489.04 L514.76,488.04 L515.14,487.03 L515.52,486.04 L515.91,485.05 L516.30,484.06 L516.70,483.08 L517.13,482.11 L517.57,481.11 L518.01,480.11 L518.45,479.13 L518.91,478.16 L519.40,477.20 L519.94,476.28 L520.59,475.35 L521.30,474.35 L522.00,473.36 L522.73,472.39 L523.51,471.45 L524.39,470.54 L525.39,469.79 L526.39,469.42 L527.39,469.40 L528.39,469.40 L529.39,469.40 L530.39,469.40 L531.39,469.40 L532.39,469.48 L533.39,470.20 L534.38,471.32 L535.24,472.32 L536.03,473.42 L536.68,474.48 L537.28,475.51 L537.84,476.53 L538.39,477.54 L538.93,478.54 L539.46,479.57 L539.96,480.59 L540.43,481.61 L540.89,482.62 L541.34,483.63 L541.78,484.64 L542.22,485.64 L542.66,486.64 L543.09,487.64 L543.53,488.64 L543.96,489.65 L544.39,490.65 L544.81,491.66 L545.23,492.67 L545.64,493.68 L546.05,494.69 L546.44,495.70 L546.83,496.71 L547.21,497.72 L547.57,498.74 L547.93,499.75 L548.28,500.76 L548.62,501.77 L548.96,502.77 L549.30,503.78 L549.63,504.78 L549.96,505.78 L550.29,506.78 L550.62,507.77 L550.96,508.77 L551.29,509.77 L551.63,510.78 L551.96,511.78 L552.29,512.78 L552.62,513.78 L552.95,514.78 L553.28,515.78 L553.60,516.78 L553.93,517.78 L554.26,518.78 L554.58,519.78 L554.91,520.78 L555.24,521.78 L555.57,522.78 L555.90,523.78 L556.23,524.78 L556.56,525.78 L556.89,526.77 L557.22,527.77 L557.56,528.77 L557.89,529.77 L558.23,530.77 L558.57,531.77 L558.90,532.77 L559.24,533.77 L559.57,534.77 L559.91,535.77 L560.25,536.77 L560.58,537.77 L560.92,538.77 L561.26,539.77 L561.59,540.77 L561.92,541.77 L562.26,542.78 L562.59,543.78 L562.92,544.79 L563.24,545.79 L563.57,546.79 L563.89,547.79 L564.21,548.79 L564.53,549.79 L564.85,550.79 L565.18,551.79 L565.50,552.78 L565.83,553.78 L566.16,554.77 L566.50,555.77 L566.83,556.76 L567.18,557.75 L567.53,558.74 L567.89,559.73 L568.26,560.72 L568.63,561.72 L569.00,562.71 L569.38,563.71 L569.76,564.70 L570.14,565.70 L570.53,566.69 L570.92,567.69 L571.32,568.68 L571.72,569.68 L572.12,570.67 L572.53,571.67 L572.95,572.66 L573.37,573.66 L573.79,574.65 L574.22,575.64 L574.65,576.64 L575.09,577.63 L575.54,578.63 L575.98,579.62 L576.44,580.62 L576.89,581.62 L577.34,582.61 L577.80,583.61 L578.27,584.61 L578.73,585.60 L579.21,586.59 L579.68,587.59 L580.17,588.58 L580.66,589.57 L581.16,590.56 L581.66,591.55 L582.18,592.54 L582.71,593.53 L583.26,594.52 L583.81,595.50 L584.39,596.49 L584.99,597.47 L585.60,598.46 L586.22,599.45 L586.86,600.44 L587.51,601.43 L588.17,602.42 L588.85,603.41 L589.55,604.39 L590.27,605.38 L591.01,606.36 L591.77,607.34 L592.57,608.32 L593.40,609.30 L594.27,610.27 L595.18,611.25 L596.14,612.23 L597.13,613.21 L598.13,614.15 L599.13,615.06 L600.13,615.93 L601.13,616.76 L602.13,617.57 L603.13,618.34 L604.13,619.10 L605.13,619.83 L606.13,620.54 L607.13,621.23 L608.13,621.90 L609.13,622.55 L610.13,623.18 L611.13,623.79 L612.13,624.38 L613.13,624.95 L614.13,625.49 L615.13,626.02 L616.13,626.53 L617.13,627.02 L618.13,627.50 L619.13,627.96 L620.13,628.41 L621.13,628.85 L622.13,629.27 L623.13,629.68 L624.13,630.08 L625.13,630.46 L626.13,630.83 L627.13,631.19 L628.13,631.54 L629.13,631.88 L630.13,632.21 L631.13,632.54 L632.13,632.85 L633.13,633.16 L634.13,633.46 L635.13,633.76 L636.13,634.04 L637.13,634.32 L638.13,634.59 L639.13,634.85 L640.13,635.11 L641.13,635.36 L642.13,635.60 L643.13,635.84 L644.13,636.07 L645.13,636.30 L646.13,636.52 L647.13,636.74 L648.13,636.95 L649.13,637.15 L650.13,637.35 L651.13,637.55 L652.13,637.74 L653.13,637.92 L654.13,638.10 L655.13,638.27 L656.13,638.44 L657.13,638.60 L658.13,638.75 L659.13,638.90 L660.13,639.05 L661.13,639.19 L662.13,639.33 L663.13,639.46 L664.13,639.59 L665.13,639.72 L666.13,639.85 L667.13,639.98 L668.13,640.10 L669.13,640.23 L670.13,640.36 L671.13,640.49 L672.13,640.62 L673.13,640.75 L674.13,640.88 L675.13,641.02 L676.13,641.15 L677.13,641.29 L678.13,641.42 L679.13,641.55 L680.13,641.69 L681.13,641.82 L682.13,641.95 L683.13,642.07 L684.13,642.20 L685.13,642.32 L686.13,642.43 L687.13,642.54 L688.13,642.65 L689.13,642.75 L690.13,642.85 L691.13,642.94 L692.13,643.03 L693.13,643.11 L694.13,643.19 L695.13,643.26 L696.13,643.33 L697.13,643.41 L698.13,643.48 L699.13,643.55 L700.13,643.62 L701.13,643.69 L702.13,643.76 L703.13,643.84 L704.13,643.92 L705.13,644.01 L706.13,644.10 L707.13,644.19 L708.13,644.31 L709.13,644.44 L710.13,644.60 L711.13,644.77 L712.13,644.94 L713.13,645.11 L714.13,645.27 L715.13,645.42 L716.13,645.54 L717.13,645.63 L718.13,645.69 L719.13,645.70 L720.13,645.69 L721.13,645.67 L722.13,645.63 L723.13,645.57 L724.13,645.50 L725.13,645.42 L726.13,645.32 L727.13,645.20 L728.13,645.06 L729.13,644.91 L730.13,644.73 L731.13,644.54 L732.13,644.33 L733.13,644.10 L734.13,643.84 L734.30,643.80" fill="none" stroke="#000" stroke-width="2.1" stroke-linejoin="round"/>
<path d="M315.00,627.50 L316.00,627.22 L317.00,626.95 L318.00,626.68 L319.00,626.41 L320.00,626.14 L321.00,625.88 L322.00,625.63 L323.00,625.37 L323.70,625.20 M335.40,622.50 L336.00,622.35 L337.00,622.08 L338.00,621.79 L339.00,621.49 L340.00,621.20 L341.00,620.91 L342.00,620.64 L343.00,620.41 L344.00,620.21 L345.00,620.06 L346.00,619.97 L346.40,619.94 M358.10,619.40 L359.00,619.40 L360.00,619.40 L361.00,619.40 L362.00,619.40 L363.00,619.40 L364.00,619.40 L365.00,619.40 L366.00,619.40 L367.00,619.40 L368.00,619.40 L369.00,619.40 L369.40,619.42 M380.40,621.92 L381.00,622.03 L382.00,622.20 L383.00,622.35 L384.00,622.50 L385.00,622.64 L386.00,622.77 L387.00,622.90 L388.00,623.04 L389.00,623.18 L390.00,623.32 L391.00,623.48 L392.00,623.65 M404.20,626.30 L405.00,626.50 L406.00,626.79 L407.00,627.11 L408.00,627.44 L409.00,627.76 L410.00,628.07 L411.00,628.34 L412.00,628.56 L413.00,628.72 L414.00,628.80 L414.30,628.79 M426.80,627.50 L427.00,627.47 L428.00,627.31 L429.00,627.14 L430.00,626.94 L431.00,626.73 L432.00,626.51 L433.00,626.27 L434.00,626.02 L435.00,625.75 L436.00,625.48 L437.00,625.20 M447.50,621.10 L448.00,620.85 L449.00,620.34 L450.00,619.80 L451.00,619.24 L452.00,618.65 L453.00,618.02 L454.00,617.36 L455.00,616.67 L456.00,615.94 L457.00,615.17 L458.00,614.36 L458.90,613.60 M467.40,603.20 L468.00,602.44 L468.80,601.45 L469.61,600.45 L470.41,599.44 L471.21,598.44 L471.99,597.43 L472.76,596.41 L473.51,595.40 L474.23,594.38 L474.90,593.40 M481.50,582.11 L482.02,581.43 L482.83,580.48 L483.72,579.53 L484.70,578.57 L485.70,577.64 L486.70,576.72 L487.70,575.78 L488.70,574.77 L489.64,573.71 L490.49,572.66 L490.90,572.08 M496.60,561.31 L497.08,560.63 L497.82,559.67 L498.63,558.71 L499.51,557.75 L500.45,556.78 L501.45,555.79 L502.45,554.81 L503.45,553.79 L504.41,552.76 L505.29,551.71 L506.00,550.79 M512.60,540.00 L512.87,539.56 L513.48,538.57 L514.11,537.59 L514.76,536.59 L515.41,535.59 L516.05,534.57 L516.67,533.55 L517.27,532.52 L517.83,531.50 L518.36,530.46 L518.86,529.43 L519.20,528.69 M523.00,517.40 L523.02,517.35 L523.43,516.39 L523.88,515.42 L524.35,514.45 L524.86,513.48 L525.39,512.49 L525.94,511.50 L526.49,510.50 L527.04,509.48 L527.57,508.45 L528.07,507.42 L528.54,506.38 L528.90,505.51 M532.40,495.56 L532.49,495.33 L532.89,494.34 L533.30,493.35 L533.71,492.35 L534.13,491.36 L534.56,490.37 L535.00,489.38 L535.45,488.39 L535.90,487.41 L536.37,486.42 L536.85,485.43 L537.35,484.45 L537.86,483.47 L538.00,483.20 M544.50,472.70 L545.40,471.89 L546.40,471.01 L547.40,470.22 L548.40,469.57 L549.40,469.11 L550.40,468.91 L551.40,469.11 L552.40,469.88 L553.40,471.04 L554.18,472.08 L554.90,473.09 L555.62,474.06 L555.80,474.31 M562.10,484.70 L562.38,485.17 L562.99,486.15 L563.62,487.14 L564.27,488.14 L564.92,489.14 L565.56,490.15 L566.19,491.18 L566.78,492.20 L567.35,493.23 L567.88,494.26 L568.38,495.30 L568.70,496.01 M572.50,507.40 L572.51,507.42 L572.88,508.40 L573.27,509.38 L573.68,510.36 L574.11,511.34 L574.54,512.34 L574.98,513.33 L575.42,514.34 L575.86,515.35 L576.29,516.37 L576.70,517.39 L577.09,518.41 L577.20,518.71 M580.90,529.99 L581.06,530.41 L581.44,531.40 L581.83,532.38 L582.23,533.37 L582.64,534.36 L583.07,535.35 L583.50,536.34 L583.94,537.33 L584.38,538.33 L584.83,539.33 L585.27,540.33 L585.70,541.30 M590.40,551.70 L590.69,552.25 L591.21,553.24 L591.75,554.22 L592.31,555.21 L592.88,556.20 L593.47,557.19 L594.07,558.18 L594.67,559.17 L595.28,560.17 L595.90,561.17 L596.51,562.18 L597.00,563.00 M604.50,575.30 L605.05,576.12 L605.73,577.12 L606.42,578.11 L607.11,579.10 L607.82,580.09 L608.54,581.08 L609.27,582.07 L610.02,583.06 L610.78,584.05 L611.56,585.04 L612.10,585.70 M621.50,596.00 L622.38,597.01 L623.24,598.02 L624.07,599.03 L624.89,600.03 L625.70,601.03 L626.53,602.01 L627.39,602.99 L628.30,603.95 L629.28,604.89 L630.00,605.49 M642.00,612.70 L642.28,612.88 L643.28,613.50 L644.28,614.14 L645.28,614.79 L646.28,615.44 L647.28,616.09 L648.28,616.74 L649.28,617.39 L650.28,618.03 L651.28,618.65 L652.28,619.27 L653.28,619.86 L653.70,620.10 M664.70,625.90 L665.28,626.20 L666.28,626.72 L667.28,627.24 L668.28,627.76 L669.28,628.28 L670.28,628.80 L671.28,629.31 L672.28,629.81 L673.28,630.30 L674.28,630.79 L675.28,631.25 L676.28,631.70 L677.20,632.10 M687.40,635.90 L688.28,636.21 L689.28,636.55 L690.28,636.89 L691.28,637.23 L692.28,637.56 L693.28,637.89 L694.28,638.21 L695.28,638.54 L696.28,638.87 L697.28,639.20 L698.28,639.53 L699.10,639.80 M710.10,643.50 L710.28,643.55 L711.28,643.81 L712.28,644.06 L713.28,644.29 L714.28,644.52 L715.28,644.73 L716.28,644.95 L717.28,645.16 L718.28,645.37 L719.28,645.59 L720.28,645.82 L721.28,646.06 L722.28,646.32 L722.60,646.40 M732.30,649.40 L733.28,649.75 L734.00,650.00" fill="none" stroke="#000" stroke-width="2.1" stroke-linejoin="round"/>
<line x1="530" y1="464.6" x2="549" y2="464.6" stroke="#000" stroke-width="1.8"/>
<path d="M538,460.8 L538,468.4 L546,464.6 Z" fill="#000"/>
<text transform="translate(502.6,729.1) scale(1.035,1)" font-size="23"><tspan font-family="Liberation Serif, serif" font-size="21.5">λ</tspan><tspan dx="1.2"> (nm)</tspan></text>
<line x1="704.3" y1="447.1" x2="759.3" y2="447.1" stroke="#000" stroke-width="2.2"/>
<line x1="704.3" y1="475.8" x2="759.3" y2="475.8" stroke="#000" stroke-width="2.2" stroke-dasharray="12.6 9.8"/>
<text transform="translate(765.00,454.50) scale(1.035,1)" text-anchor="start" font-size="23" >Composite film</text>
<text transform="translate(765.00,483.80) scale(1.035,1)" text-anchor="start" font-size="23" >Film after 7 months</text>
</svg>
</body></html>
